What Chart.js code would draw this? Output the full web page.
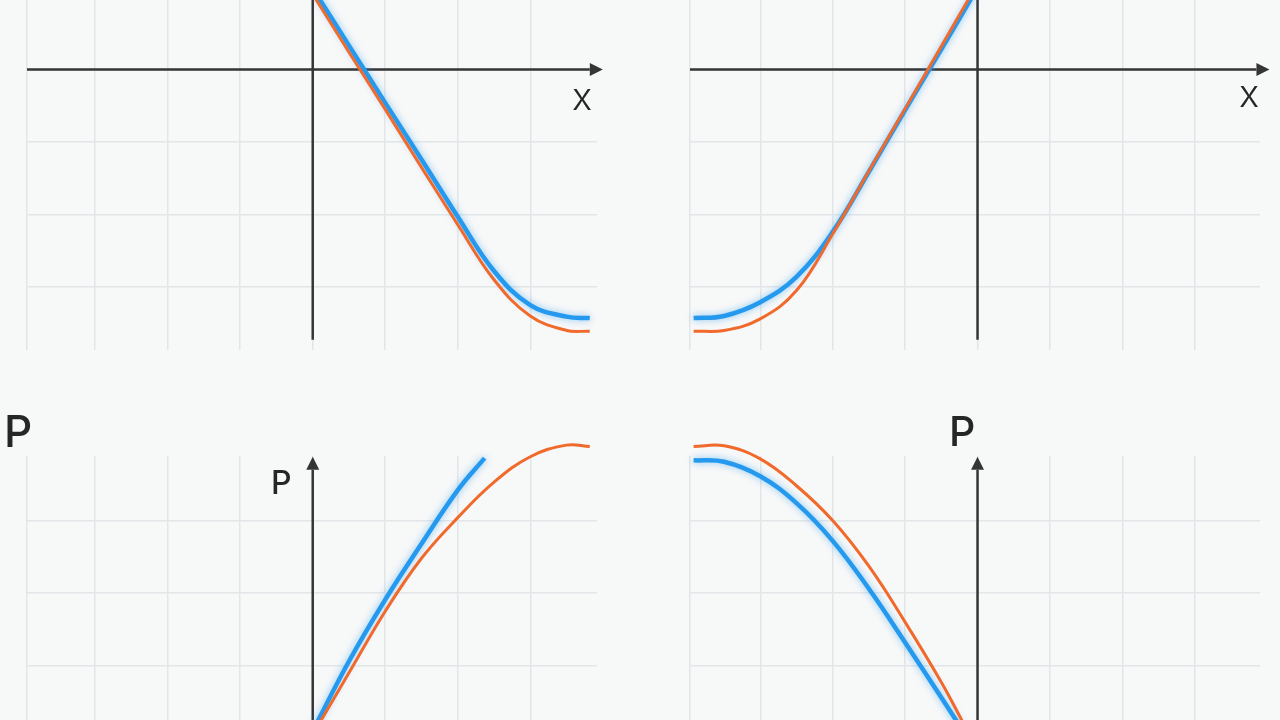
<!DOCTYPE html>
<html>
<head>
<meta charset="utf-8">
<script src="https://cdn.jsdelivr.net/npm/chart.js@4.4.1/dist/chart.umd.min.js"></script>
<style>
html,body{margin:0;padding:0;background:#f7f8f8;}
body{width:1280px;height:720px;position:relative;overflow:hidden;font-family:Inter,"Noto Sans",sans-serif;}
.panel{position:absolute;width:640px;height:360px;}
.lbl{position:absolute;line-height:1;color:#262626;white-space:nowrap;}
</style>
</head>
<body>
<div class="panel" style="left:0;top:0"><canvas id="cTL" width="640" height="360"></canvas></div>
<div class="panel" style="left:640px;top:0"><canvas id="cTR" width="640" height="360"></canvas></div>
<div class="panel" style="left:0;top:360px"><canvas id="cBL" width="640" height="360"></canvas></div>
<div class="panel" style="left:640px;top:360px"><canvas id="cBR" width="640" height="360"></canvas></div>

<div class="lbl" style="left:572px;top:77px;font-size:38px;font-weight:300">x</div>
<div class="lbl" style="left:1239px;top:74px;font-size:38px;font-weight:300">x</div>
<div class="lbl" style="left:4px;top:409px;font-size:44px;font-weight:500">P</div>
<div class="lbl" style="left:271px;top:467px;font-size:32px;font-weight:500">P</div>
<div class="lbl" style="left:949px;top:411px;font-size:41px;font-weight:500">P</div>

<script>
// ***** curve data (grid units, one square = 1) *****
// top-left: x axis, falling curves
const tlBlueX=[0.0,0.5,1.0,1.5,2.0,2.5,3.0,3.5,3.82];
const tlBlueY=[1.12,0.33,-0.46,-1.24,-2.03,-2.78,-3.25,-3.41,-3.43];
const tlOrangeX=[-0.05,0.5,1.0,1.5,2.0,2.5,3.0,3.5,3.82];
const tlOrangeY=[1.12,0.24,-0.55,-1.35,-2.14,-2.90,-3.40,-3.60,-3.61];
// top-right: x axis, rising curves
const trBlueX=[-3.92,-3.5,-3.0,-2.5,-2.0,-1.5,-1.0,-0.5,0.0];
const trBlueY=[-3.43,-3.40,-3.21,-2.86,-2.24,-1.41,-0.56,0.28,1.13];
const trOrangeX=[-3.92,-3.5,-3.0,-2.5,-2.0,-1.5,-1.0,-0.5,-0.05];
const trOrangeY=[-3.61,-3.60,-3.44,-3.05,-2.27,-1.40,-0.54,0.32,1.10];
// bottom-left: P axis
const blBlueX=[0.0,0.5,1.0,1.5,2.0,2.37];
const blBlueY=[0.10,1.06,1.91,2.68,3.42,3.86];
const blOrangeX=[0.0,0.5,1.0,1.5,2.0,2.5,3.0,3.5,3.82];
const blOrangeY=[0.05,0.90,1.75,2.48,3.04,3.53,3.88,4.04,4.02];
// bottom-right: P axis
const brBlueX=[-3.92,-3.5,-3.0,-2.5,-2.0,-1.5,-1.0,-0.5,-0.2];
const brBlueY=[3.83,3.81,3.61,3.24,2.72,2.06,1.32,0.56,0.10];
const brOrangeX=[-3.92,-3.5,-3.0,-2.5,-2.0,-1.5,-1.0,-0.5,-0.15];
const brOrangeY=[4.02,4.03,3.85,3.48,3.00,2.37,1.60,0.77,0.12];
// grid lines
const leftGridX=[-3.94,-3,-2,-1,0,1,2,3];
const rightGridX=[-3.97,-3,-2,-1,0,1,2,3];
const topGridY=[-3,-2,-1,0];
const bottomGridY=[1,2,3];

const BLUE='#2599ee';
const ORANGE='#f1692b';

function pts(xs,ys){
  return xs.map((v,i)=>({x:v,y:ys[i]}));
}

// ***** axis lines with arrows *****
const axesPlugin={
  id:'axes',
  beforeDatasetsDraw(chart,args,opts){
    const {ctx,scales:{x,y}}=chart;
    ctx.save();
    ctx.strokeStyle='#353535';
    ctx.fillStyle='#353535';
    ctx.lineWidth=2.5;
    (opts.lines||[]).forEach(a=>{
      const x0=x.getPixelForValue(a.from[0]),y0=y.getPixelForValue(a.from[1]);
      const x1=x.getPixelForValue(a.to[0]),y1=y.getPixelForValue(a.to[1]);
      const ang=Math.atan2(y1-y0,x1-x0);
      const head=a.arrow?13:0;
      ctx.beginPath();
      ctx.moveTo(x0,y0);
      ctx.lineTo(x1-head*Math.cos(ang),y1-head*Math.sin(ang));
      ctx.stroke();
      if(a.arrow){
        const bx=x1-head*Math.cos(ang),by=y1-head*Math.sin(ang);
        const w=6.5;
        ctx.beginPath();
        ctx.moveTo(x1,y1);
        ctx.lineTo(bx+w*Math.sin(ang),by-w*Math.cos(ang));
        ctx.lineTo(bx-w*Math.sin(ang),by+w*Math.cos(ang));
        ctx.closePath();
        ctx.fill();
      }
    });
    ctx.restore();
  }
};

// soft glow on the blue curve
const glowPlugin={
  id:'glow',
  beforeDatasetDraw(chart,args){
    if(args.index===1){
      chart.ctx.save();
      chart.ctx.shadowColor='rgba(37,153,238,0.55)';
      chart.ctx.shadowBlur=7;
    }
  },
  afterDatasetDraw(chart,args){
    if(args.index===1)chart.ctx.restore();
  }
};

function gridScale(min,max,ticks){
  return {
    type:'linear',min:min,max:max,
    ticks:{display:false},
    border:{display:false},
    grid:{color:'#e2e6e8',lineWidth:1.5,drawTicks:false},
    afterBuildTicks:s=>{s.ticks=ticks.map(v=>({value:v}));}
  };
}

function makePanel(id,blue,orange,xs,ys,padding,lines){
  new Chart(document.getElementById(id),{
    type:'scatter',
    data:{datasets:[
      {label:'orange',data:orange,borderColor:ORANGE,borderWidth:3},
      {label:'blue',data:blue,borderColor:BLUE,borderWidth:4.5}
    ]},
    options:{
      responsive:false,
      animation:false,
      showLine:true,
      clip:false,
      layout:{padding:padding},
      elements:{point:{radius:0},line:{tension:0.4,fill:false,capBezierPoints:false}},
      plugins:{legend:{display:false},tooltip:{enabled:false},axes:{lines:lines}},
      scales:{x:xs,y:ys}
    },
    plugins:[axesPlugin,glowPlugin]
  });
}

makePanel('cTL',pts(tlBlueX,tlBlueY),pts(tlOrangeX,tlOrangeY),
  gridScale(-3.94,3.92,leftGridX),gridScale(-3.87,0.96,topGridY),
  {left:27,right:43,top:0,bottom:10},
  [{from:[-3.94,0],to:[4.0,0],arrow:true},{from:[0,-3.73],to:[0,1.2],arrow:false}]);

makePanel('cTR',pts(trBlueX,trBlueY),pts(trOrangeX,trOrangeY),
  gridScale(-3.97,3.90,rightGridX),gridScale(-3.87,0.96,topGridY),
  {left:50,right:20,top:0,bottom:10},
  [{from:[-3.97,0],to:[4.03,0],arrow:true},{from:[0,-3.73],to:[0,1.2],arrow:false}]);

makePanel('cBL',pts(blBlueX,blBlueY),pts(blOrangeX,blOrangeY),
  gridScale(-3.94,3.92,leftGridX),gridScale(0.25,3.89,bottomGridY),
  {left:27,right:43,top:96,bottom:0},
  [{from:[0,0],to:[0,3.88],arrow:true}]);

makePanel('cBR',pts(brBlueX,brBlueY),pts(brOrangeX,brOrangeY),
  gridScale(-3.97,3.90,rightGridX),gridScale(0.25,3.89,bottomGridY),
  {left:50,right:20,top:96,bottom:0},
  [{from:[0,0],to:[0,3.88],arrow:true}]);
</script>
</body>
</html>
